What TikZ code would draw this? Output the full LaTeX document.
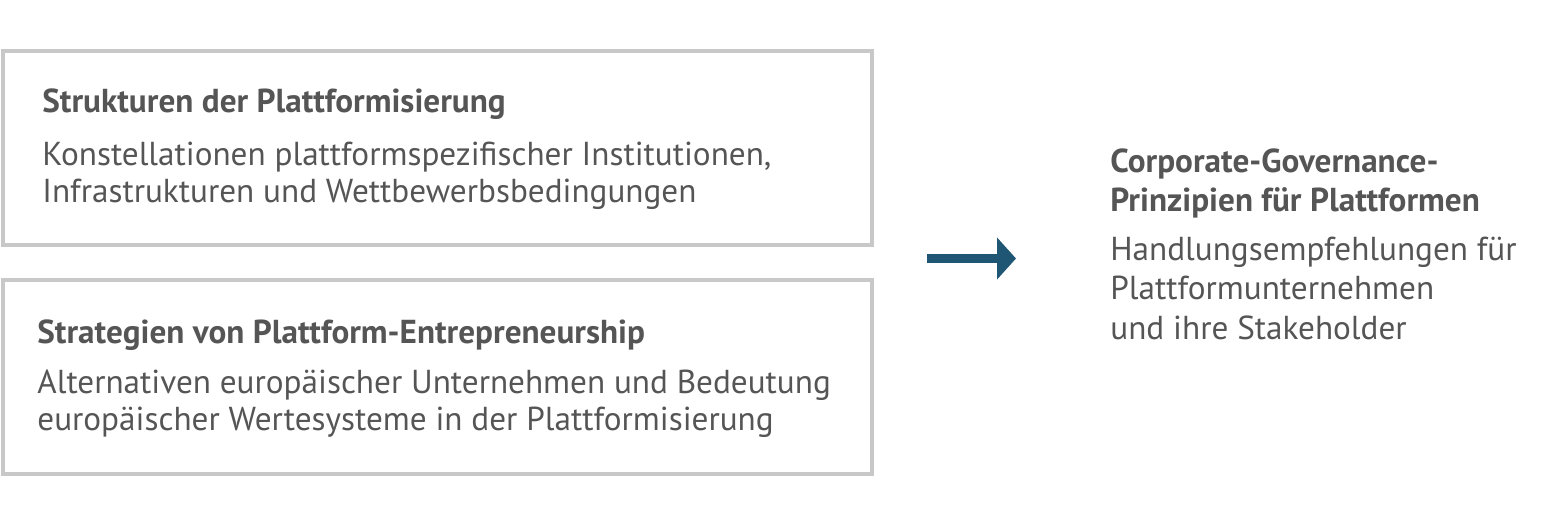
\documentclass[tikz,border=0pt]{standalone}
\usepackage{fontspec}
\setmainfont{PT Sans}
\usetikzlibrary{arrows.meta}
\definecolor{textgray}{RGB}{85,85,85}
\definecolor{framegray}{RGB}{200,200,200}
\definecolor{arrowblue}{RGB}{31,86,115}
\tikzset{%
  framebox/.style = {shape=rectangle, draw=framegray, line width=2pt,%
                     minimum width=434.5pt, minimum height=97pt, inner sep=0pt},%
  headline/.style = {font=\fontsize{16.6}{20}\selectfont\bfseries, text=textgray,%
                     inner sep=0pt, anchor=base west, align=left},%
  bodyline/.style = {font=\fontsize{16.6}{18.5}\selectfont, text=textgray,%
                     inner sep=0pt, anchor=base west, align=left},%
  flowarrow/.style = {draw=arrowblue, line width=4.5pt,%
                      -{Triangle[length=9.5pt,width=20.5pt]}}%
}
\begin{document}
\begin{tikzpicture}[x=0.5pt,y=-0.5pt]
	\useasboundingbox (0,0) rectangle (1564,524);
	% left column (base anchor = last line)
	\node [framebox] (strukturen) at (437.5,148.25) {};
	\node [headline] (strukturentitle) at (42,113) {Strukturen der Plattformisierung};
	\node [bodyline] (strukturentext) at (42,202) {Konstellationen plattformspezifischer Institutionen,\\Infrastrukturen und Wettbewerbsbedingungen};
	\node [framebox] (strategien) at (437.5,377) {};
	\node [headline] (strategientitle) at (37,343) {Strategien von Plattform-Entrepreneurship};
	\node [bodyline] (strategientext) at (37,430) {Alternativen europäischer Unternehmen und Bedeutung\\europäischer Wertesysteme in der Plattformisierung};
	% right column
	\node [headline] (governancetitle) at (1110,212) {Corporate-Governance-\\Prinzipien für Plattformen};
	\node [bodyline, font=\fontsize{16.6}{19.75}\selectfont] (governancetext) at (1110,339) {Handlungsempfehlungen für\\Plattformunternehmen\\und ihre Stakeholder};
	% arrow
	\coordinate (arrowstart) at (927,258.5);
	\coordinate (arrowend) at (1016,258.5);
	\draw [flowarrow] (arrowstart) -- (arrowend);
\end{tikzpicture}
\end{document}
